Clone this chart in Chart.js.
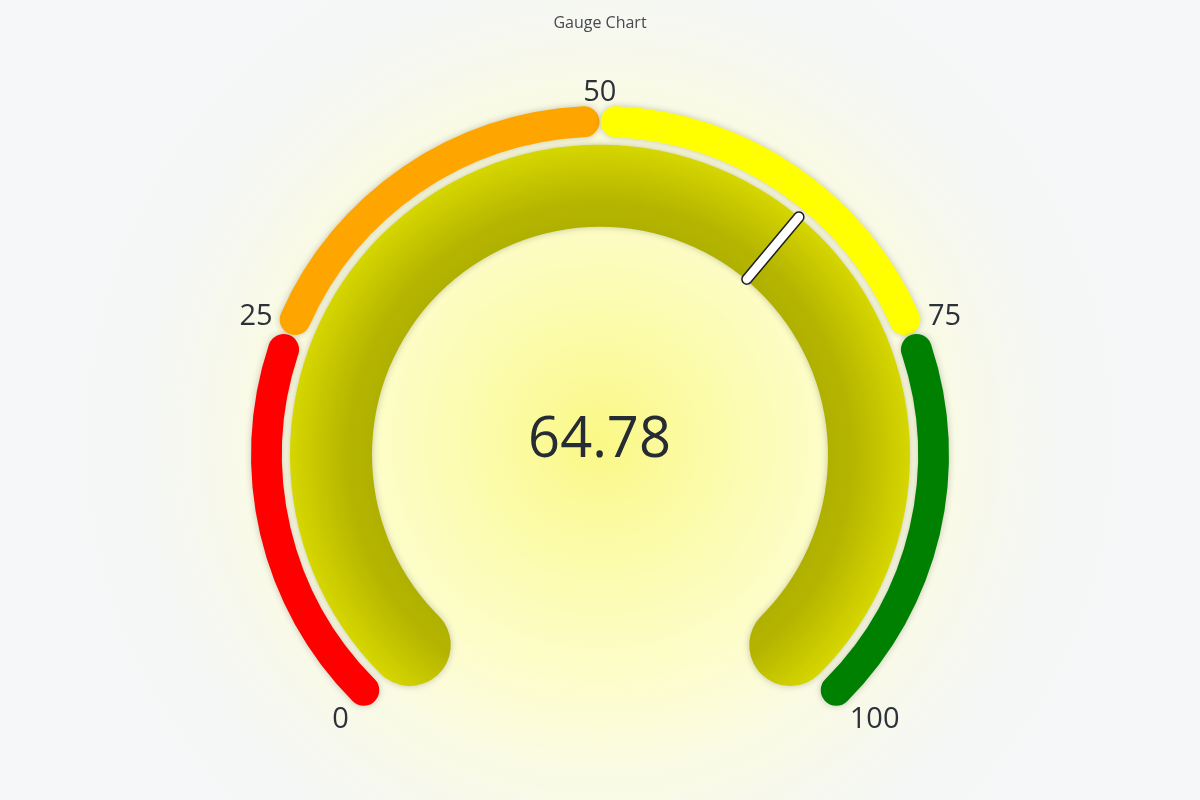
<!DOCTYPE html>
<html>
<head>
<meta charset="utf-8">
<script src="https://cdn.jsdelivr.net/npm/chart.js@4.4.1/dist/chart.umd.min.js"></script>
<style>
  html, body { margin: 0; padding: 0; background: #f5f7f9; }
  #wrap {
    width: 1200px; height: 800px; position: relative;
    background: radial-gradient(circle 560px at 600px 440px,
      #faf885 0%, #fbfa9c 12%, #fcfcb6 28%, #fdfdca 42%, #fafbe2 58%, #f7f8ee 72%, #f5f7f6 82%, #f5f7f9 100%);
  }
  canvas { display: block; }
</style>
</head>
<body>
<div id="wrap"><canvas id="c"></canvas></div>
<script>
// ---- data ----
const bandLabels = ['0-25', '25-50', '50-75', '75-100'];
const bandValues = [25, 25, 25, 25];
const trackValues = [100];
const tickValues = [0, 25, 50, 75, 100];
const tickLabels = ['0', '25', '50', '75', '100'];
const gaugeMin = 0;
const gaugeMax = 100;
const gaugeValue = 64.78;
const chartTitle = 'Gauge Chart';

const FONT = "'Open Sans', 'Noto Sans', sans-serif";

// layout constants (sizes, not data)
const GAUGE_ROTATION = -135;
const GAUGE_SWEEP = 270;
const OUTER_R = 348;
const CUTOUT_R = 228;
const W_BAND = 31, W_GAP = 7, W_TRACK = 82;
// round caps reach beyond the gauge ends, like stroked arcs with round caps
const capDeg = (capR, midR) => capR / midR * 180 / Math.PI;
const bandCap = capDeg(W_BAND / 2, OUTER_R + 1 - W_BAND / 2);
const trackCap = capDeg(W_TRACK / 2, CUTOUT_R + W_TRACK / 2);

function trackGradient(c) {
  const chart = c.chart;
  const meta = chart.getDatasetMeta(c.datasetIndex);
  const ctrl = meta.controller;
  const area = chart.chartArea;
  if (!area || !ctrl || !ctrl.outerRadius) return '#c4c400';
  const cx = (area.left + area.right) / 2 + ctrl.offsetX;
  const cy = (area.top + area.bottom) / 2 + ctrl.offsetY;
  const g = chart.ctx.createRadialGradient(cx, cy, ctrl.innerRadius, cx, cy, ctrl.outerRadius);
  g.addColorStop(0, '#b0b000');
  g.addColorStop(0.3, '#b5b500');
  g.addColorStop(1, '#d6d600');
  return g;
}

function valueAngle(chart, v) {
  const start = (chart.options.rotation - 90) * Math.PI / 180;
  const sweep = chart.options.circumference * Math.PI / 180;
  return start + (v - gaugeMin) / (gaugeMax - gaugeMin) * sweep;
}

const gaugeExtras = {
  id: 'gaugeExtras',
  beforeDatasetsDraw(chart) {
    const ctx = chart.ctx;
    ctx.save();
    ctx.shadowColor = 'rgba(0,0,0,0.22)';
    ctx.shadowBlur = 7;
    ctx.shadowOffsetX = 0;
    ctx.shadowOffsetY = 0;
  },
  afterDatasetsDraw(chart) {
    const ctx = chart.ctx;
    ctx.restore();
    const track = chart.getDatasetMeta(2).data[0];
    const band = chart.getDatasetMeta(0).data[0];
    const {x: cx, y: cy} = track;

    // needle
    const a = valueAngle(chart, gaugeValue);
    const r1 = track.innerRadius - 4, r2 = track.outerRadius + 5, hw = 5;
    ctx.save();
    ctx.translate(cx, cy);
    ctx.rotate(a);
    ctx.beginPath();
    ctx.moveTo(r1 + hw, -hw);
    ctx.lineTo(r2 - hw, -hw);
    ctx.arc(r2 - hw, 0, hw, -Math.PI / 2, Math.PI / 2);
    ctx.lineTo(r1 + hw, hw);
    ctx.arc(r1 + hw, 0, hw, Math.PI / 2, Math.PI * 1.5);
    ctx.closePath();
    ctx.fillStyle = '#ffffff';
    ctx.fill();
    ctx.lineWidth = 1.5;
    ctx.strokeStyle = '#1e1e1e';
    ctx.stroke();
    ctx.restore();

    // tick labels
    const rA = band.outerRadius + 8;
    ctx.save();
    ctx.font = '29px ' + FONT;
    ctx.fillStyle = '#2c323a';
    ctx.textAlign = 'left';
    ctx.textBaseline = 'alphabetic';
    tickValues.forEach((v, i) => {
      const t = tickLabels[i];
      const ang = valueAngle(chart, v);
      const ux = Math.cos(ang), uy = Math.sin(ang);
      const ax = cx + ux * rA, ay = cy + uy * rA;
      const m = ctx.measureText(t);
      const w = m.actualBoundingBoxLeft + m.actualBoundingBoxRight;
      const h = m.actualBoundingBoxAscent;
      let left, top;
      if (ux < -0.3) left = ax - w; else if (ux > 0.3) left = ax; else left = ax - w / 2;
      if (uy < -0.6) top = ay - h + 2; else if (uy > 0.6) top = ay; else top = ay - h / 2 - 4;
      ctx.fillText(t, left + m.actualBoundingBoxLeft, top + h);
    });
    ctx.restore();

    // center value
    ctx.save();
    ctx.font = '56px ' + FONT;
    ctx.fillStyle = '#262c33';
    ctx.textAlign = 'left';
    ctx.textBaseline = 'alphabetic';
    const txt = gaugeValue.toFixed(2);
    const m = ctx.measureText(txt);
    const w = m.actualBoundingBoxLeft + m.actualBoundingBoxRight;
    const h = m.actualBoundingBoxAscent;
    const midY = cy - 18.5;
    ctx.fillText(txt, cx - w / 2 + m.actualBoundingBoxLeft, midY + h / 2);
    ctx.restore();
  }
};

new Chart(document.getElementById('c'), {
  type: 'doughnut',
  data: {
    labels: bandLabels,
    datasets: [
      {
        data: bandValues,
        backgroundColor: ['#ff0000', '#ffa500', '#ffff00', '#008000'],
        borderWidth: 0,
        borderRadius: 20,
        spacing: 2,
        weight: W_BAND,
        rotation: GAUGE_ROTATION - bandCap,
        circumference: GAUGE_SWEEP + 2 * bandCap
      },
      {
        data: trackValues,
        backgroundColor: 'rgba(0,0,0,0)',
        borderWidth: 0,
        weight: W_GAP
      },
      {
        data: trackValues,
        backgroundColor: trackGradient,
        borderWidth: 0,
        borderRadius: 50,
        weight: W_TRACK,
        rotation: GAUGE_ROTATION - trackCap,
        circumference: GAUGE_SWEEP + 2 * trackCap
      }
    ]
  },
  options: {
    responsive: true,
    maintainAspectRatio: false,
    animation: false,
    events: [],
    rotation: GAUGE_ROTATION,
    circumference: GAUGE_SWEEP,
    radius: OUTER_R,
    cutout: (CUTOUT_R / OUTER_R * 100) + '%',
    layout: { padding: { top: 0, bottom: -2.4, left: 0, right: 0 } },
    plugins: {
      legend: { display: false },
      tooltip: { enabled: false },
      title: {
        display: true,
        text: chartTitle,
        color: '#464a4f',
        font: { family: FONT, size: 16, weight: 'normal' },
        padding: { top: 14, bottom: 9 }
      }
    }
  },
  plugins: [gaugeExtras]
});
</script>
</body>
</html>
